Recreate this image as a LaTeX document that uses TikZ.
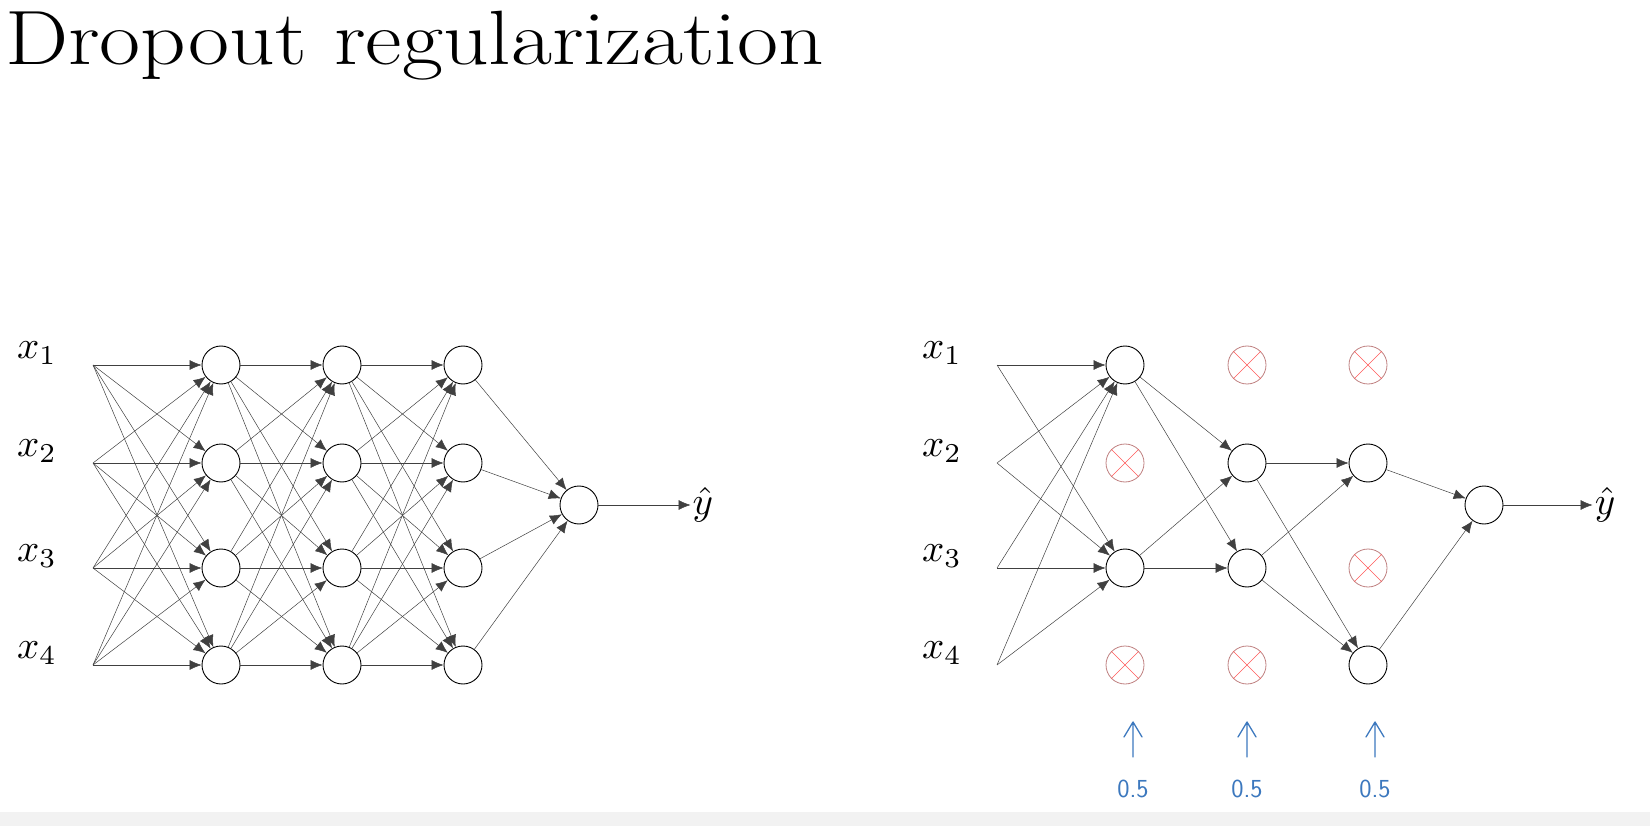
\documentclass[tikz,border=0pt]{standalone}
\usetikzlibrary{arrows.meta}
\definecolor{handblue}{RGB}{60,120,190}
\newcommand\mybigmath[1]{\scalebox{3.9}{$#1$}}
\begin{document}
\begin{tikzpicture}[x=1pt,y=-1pt,
  neu/.style={circle,draw=black,line width=0.9pt,minimum size=38pt,inner sep=0pt,fill=white},
  drop/.style={circle,draw=red!50!black!50,line width=0.8pt,minimum size=38pt,inner sep=0pt},
  e/.style={draw=black!75,line width=0.5pt,-{Latex[length=12pt,width=10pt]}},
  lbl/.style={inner sep=2pt},
  hand/.style={draw=handblue,line width=1.3pt},
  hl/.style={text=handblue,font=\fontsize{26}{28}\sffamily}]
\useasboundingbox (0,0) rectangle (1650,826);
\fill[black!5] (0,812) rectangle (1650,826);
\node[anchor=base west,font=\fontsize{77}{80}\selectfont,inner sep=0pt] (title) at (5,65) {\scalebox{1.16}[1]{Dropout regularization}};
% ---------- left network
\foreach \i/\y in {1/365,2/463,3/568,4/665}{
  \node[lbl] (lx\i) at (37,\y-12) {\mybigmath{x_{\i}}};
  \coordinate (li\i) at (93,\y);
  \node[neu] (la\i) at (221,\y) {};
  \node[neu] (lb\i) at (342,\y) {};
  \node[neu] (lc\i) at (463,\y) {};
}
\node[neu] (lo) at (579,505) {};
\node[lbl] (ly) at (703,505) {\mybigmath{\hat y}};
\foreach \i in {1,...,4}{\foreach \j in {1,...,4}{
  \draw[e] (li\i) -- (la\j);
  \draw[e] (la\i) -- (lb\j);
  \draw[e] (lb\i) -- (lc\j);}
  \draw[e] (lc\i) -- (lo);}
\draw[e] (lo) -- (ly.west);
% ---------- right network
\foreach \i/\y in {1/365,2/463,3/568,4/665}{
  \node[lbl] (rx\i) at (942,\y-12) {\mybigmath{x_{\i}}};
  \coordinate (ri\i) at (997,\y);
}
\node[neu] (ra1) at (1125,365) {};
\node[neu] (ra3) at (1125,568) {};
\node[neu] (rb2) at (1247,463) {};
\node[neu] (rb3) at (1247,568) {};
\node[neu] (rc2) at (1368,463) {};
\node[neu] (rc4) at (1368,665) {};
\node[neu] (ro) at (1484,505) {};
\node[lbl] (ry) at (1605,505) {\mybigmath{\hat y}};
\foreach \n/\x/\y in {ra2/1125/463,ra4/1125/665,rb1/1247/365,rb4/1247/665,rc1/1368/365,rc3/1368/568}{
  \node[drop] (\n) at (\x,\y) {};
  \draw[red!65,line width=0.6pt] (\n.north west) -- (\n.south east) (\n.north east) -- (\n.south west);
}
\foreach \i in {1,...,4}{\draw[e] (ri\i) -- (ra1); \draw[e] (ri\i) -- (ra3);}
\foreach \i in {1,3}{\draw[e] (ra\i) -- (rb2); \draw[e] (ra\i) -- (rb3);}
\foreach \i in {2,3}{\draw[e] (rb\i) -- (rc2); \draw[e] (rb\i) -- (rc4);}
\draw[e] (rc2) -- (ro); \draw[e] (rc4) -- (ro);
\draw[e] (ro) -- (ry.west);
% ---------- hand annotations
\foreach \n/\x in {p1/1133,p2/1247,p3/1375}{
  \coordinate (\n t) at (\x,722);
  \coordinate (\n b) at (\x,757);
  \draw[hand,line cap=round,line join=round] (\n b) -- (\n t) (\x-9,737) -- (\n t) -- (\x+9,737);
  \node[hl] (\n l) at (\x,789) {0.5};
}
\end{tikzpicture}
\end{document}
